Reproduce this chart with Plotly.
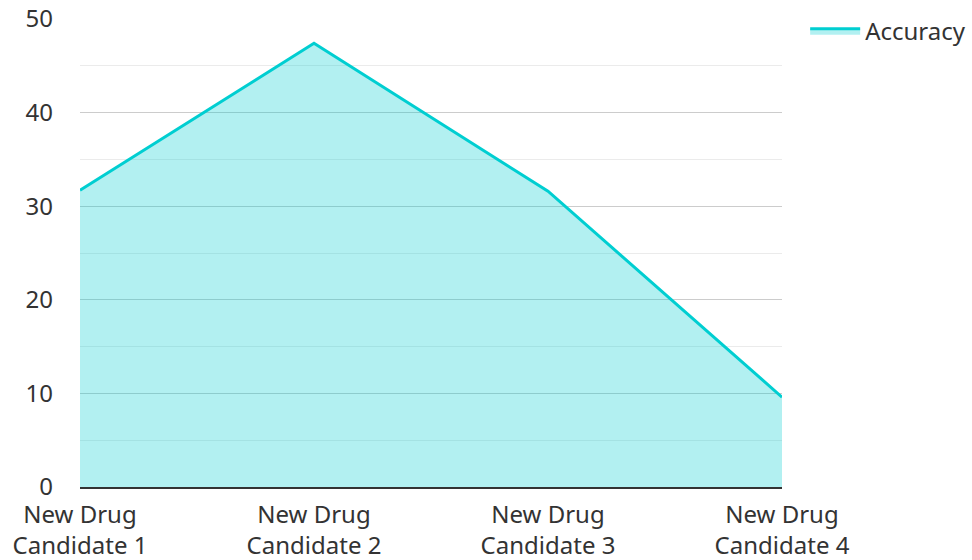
import plotly.graph_objects as go

# Accuracy per drug candidate
candidates = ["New Drug<br>Candidate 1", "New Drug<br>Candidate 2",
              "New Drug<br>Candidate 3", "New Drug<br>Candidate 4"]
accuracy = [31.7, 47.4, 31.6, 9.6]
y_ticks = [0, 10, 20, 30, 40, 50]

line_color = "#00CED1"
fill_color = "rgba(0,206,209,0.3)"
text_color = "#333333"

fig = go.Figure()
fig.add_trace(go.Scatter(
    x=candidates,
    y=accuracy,
    name="Accuracy",
    mode="lines",
    line=dict(color=line_color, width=3),
    fill="tozeroy",
    fillcolor=fill_color,
))

fig.update_layout(
    width=972,
    height=560,
    margin=dict(l=80, r=190, t=19, b=73, autoexpand=False),
    paper_bgcolor="white",
    plot_bgcolor="white",
    font=dict(family="Noto Sans", size=24, color=text_color),
    showlegend=True,
    legend=dict(
        x=1.033, y=0.974, xanchor="left", yanchor="middle",
        font=dict(size=24, color=text_color),
        itemwidth=50,
        bgcolor="rgba(0,0,0,0)",
    ),
    xaxis=dict(
        type="category",
        range=[0, 3],
        automargin=False,
        showgrid=False,
        showline=True,
        linecolor=text_color,
        linewidth=2,
        ticks="",
        ticklabelstandoff=5,
        tickfont=dict(size=24, color=text_color),
        zeroline=False,
    ),
    yaxis=dict(
        range=[0, 50],
        tickvals=y_ticks,
        automargin=False,
        showgrid=True,
        gridcolor="#cccccc",
        gridwidth=1,
        minor=dict(dtick=5, showgrid=True, gridcolor="#ebebeb", gridwidth=1),
        zeroline=False,
        showline=False,
        ticks="",
        ticklabelstandoff=26,
        tickfont=dict(size=24, color=text_color),
    ),
)

fig.write_html("out.html")
